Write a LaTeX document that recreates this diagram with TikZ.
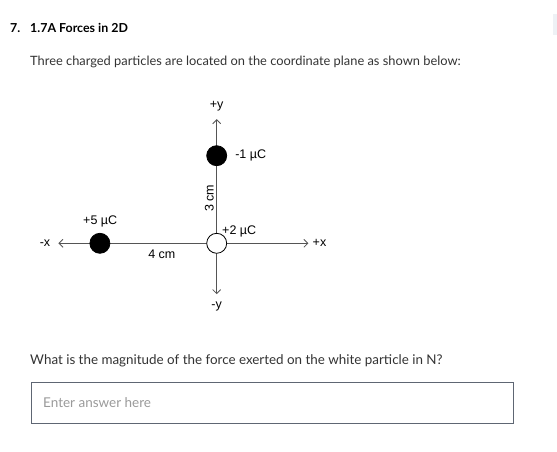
\documentclass[tikz,border=0pt]{standalone}
\usepackage{fontspec}
\setmainfont{Lato}
\newfontfamily\figfont{Liberation Sans}
\usetikzlibrary{arrows.meta}

\definecolor{bodygray}{HTML}{333333}
\definecolor{axisgray}{HTML}{555555}
\definecolor{hintgray}{HTML}{9A9A9A}
\definecolor{boxslate}{HTML}{5E6673}
\definecolor{edgetab}{HTML}{EEF1F5}

\begin{document}
\begin{tikzpicture}[x=1pt, y=-1pt,
    axis/.style={draw=axisgray, line width=0.8pt},
    charge/.style={circle, draw=black, line width=0.8pt, minimum size=20pt, inner sep=0pt},
    figlabel/.style={font=\figfont\fontsize{12.5}{14}\selectfont, inner sep=0pt}]
  % Page and margins.
  \fill[white] (0,0) rectangle (557,452);
  \useasboundingbox (0,0) rectangle (557,452);
  \fill[edgetab] (553,14) rectangle (557,35);

  % Heading and text.
  \node[anchor=base west, inner sep=0pt, font=\bfseries\fontsize{12.4}{14}\selectfont] (number) at (10,33) {7.};
  \node[anchor=base west, inner sep=0pt, font=\bfseries\fontsize{12.4}{14}\selectfont] (title) at (30,33) {1.7A Forces in 2D};
  \node[anchor=base west, inner sep=0pt, text=bodygray, font=\fontsize{12.85}{15}\selectfont] (intro) at (30,66)
    {Three charged particles are located on the coordinate plane as shown below:};

  \begin{scope}[shift={(216.7,243.3)}, x=29.2pt, y=29.2pt]
    % Ends of the axes.
    \coordinate (xpos) at (3.14, 0);
    \coordinate (xneg) at (-5.42, 0);
    \coordinate (ypos) at (0, 4.25);
    \coordinate (yneg) at (0, -1.74);

    % Draw x, y axes.
    \draw [axis, arrows={-{Straight Barb[length=4pt, width=8pt]}}] (0, 0) -- (xpos);
    \draw [axis, arrows={-{Straight Barb[length=4pt, width=8pt]}}] (0, 0) -- (xneg);
    \draw [axis, arrows={-{Straight Barb[length=4pt, width=8pt]}}] (0, 0) -- (ypos);
    \draw [axis, arrows={-{Straight Barb[length=4pt, width=8pt]}}] (0, 0) -- (yneg);
    \node[figlabel] (xposlabel) at (3.52, 0) {+x};
    \node[figlabel] (xneglabel) at (-5.88, 0) {-x};
    \node[figlabel] (yposlabel) at (0, 4.68) {+y};
    \node[figlabel] (yneglabel) at (0, -2.17) {-y};

    % Draw charges.
    \node[charge, fill=white] (qwhite) at (0, 0) {};
    \node[charge, fill=black] (qtop) at (0, 3) {};
    \node[charge, fill=black] (qleft) at (-4, 0) {};
    \node[figlabel, anchor=west] (qtoplabel) at (0.63, 3) {-1 µC};
    \node[figlabel] (qleftlabel) at (-3.99, 0.74) {+5 µC};
    \node[figlabel] (qwhitelabel) at (0.77, 0.40) {+2 µC};

    % Distances.
    \node[figlabel, rotate=90] (ydist) at (-0.25, 1.54) {3 cm};
    \node[figlabel] (xdist) at (-1.88, -0.37) {4 cm};
  \end{scope}

  % Question and answer field.
  \node[anchor=base west, inner sep=0pt, text=bodygray, font=\fontsize{13.4}{15}\selectfont] (question) at (30,364)
    {What is the magnitude of the force exerted on the white particle in $\mathrm{N}$?};
  \draw[boxslate, line width=0.9pt] (31,382) rectangle (513,423);
  \node[anchor=base west, inner sep=0pt, text=hintgray, font=\fontsize{13.5}{15}\selectfont] (placeholder) at (43,407)
    {Enter answer here};
\end{tikzpicture}
\end{document}
